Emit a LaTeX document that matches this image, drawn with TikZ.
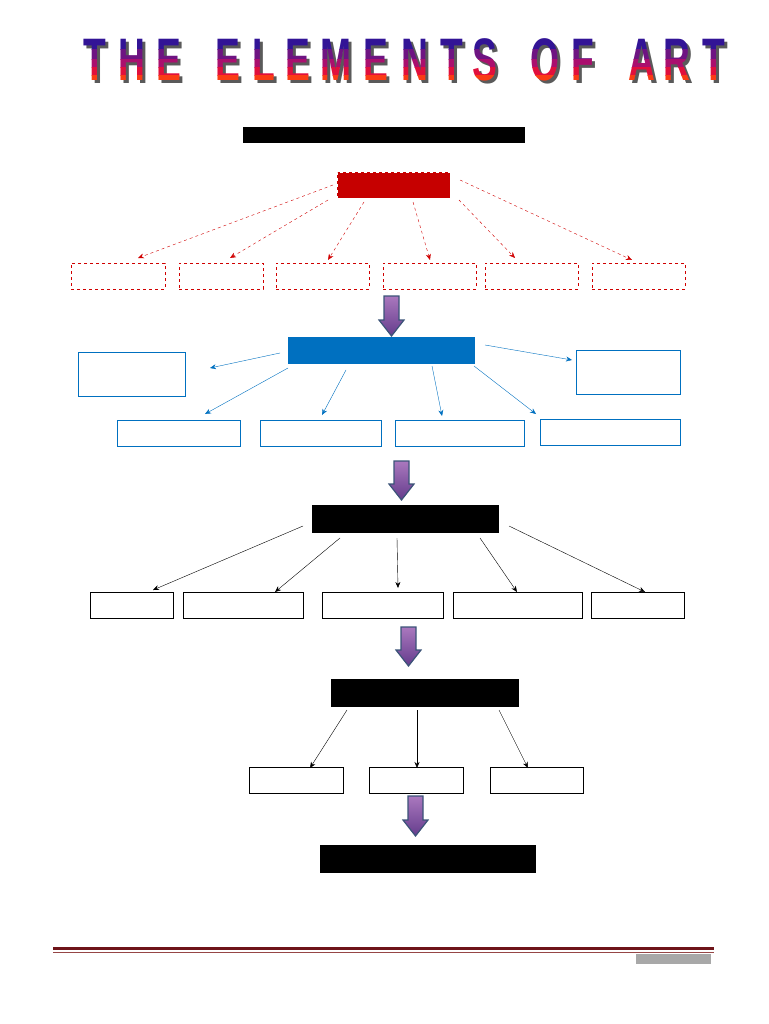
\documentclass[tikz,border=0pt]{standalone}
\usepackage{fontspec}
\setmainfont{Liberation Sans}
\usetikzlibrary{arrows.meta}
\definecolor{dred}{HTML}{D00000}
\definecolor{mblue}{HTML}{0070C0}
\tikzset{
 rbox/.style={draw=dred,dashed,line width=0.6pt},
 bbox/.style={draw=mblue,thin},
 kbox/.style={draw=black,thin},
 rarr/.style={draw=dred,dashed,thin,-{Stealth[length=6pt,width=5pt]}},
 barr/.style={draw=mblue,thin,-{Stealth[length=6pt,width=5pt]}},
 karr/.style={draw=black,thin,-{Stealth[length=6pt,width=5pt]}},
 blk/.style={draw=none,fill=black},
 big/.style={draw={rgb,255:red,59;green,83;blue,120},line width=1.2pt,top color={rgb,255:red,170;green,120;blue,190},bottom color={rgb,255:red,100;green,60;blue,140}},
 lt/.style={font=\fontsize{60}{60}\bfseries,xscale=0.62,inner sep=0,anchor=base}
}
\newcommand{\bigarrow}[4]{% name, left x, top y, bottom y
 \path[big] (#2+4,#3) -- (#2+19,#3) -- (#2+19,#4-16) -- (#2+24,#4-16) -- (#2+11.5,#4) -- (#2-1,#4-16) -- (#2+4,#4-16) -- cycle;
 \coordinate (#1) at (#2+11.5,#4);}
\newcommand{\titleletters}[1]{%
 \foreach \c/\xx in {T/95,H/132,E/169,E/228,L/264,E/298,M/336,E/376,N/415,T/452,S/485,O/545,F/583,A/642,R/677,T/714}{
  \node[lt,text=#1] at (\xx,81) {\c};}}
\begin{document}
\begin{tikzpicture}[x=1pt,y=-1pt]
\useasboundingbox (0,0) rectangle (768,1024);
% title shadow
\foreach \c/\xx in {T/95,H/132,E/169,E/228,L/264,E/298,M/336,E/376,N/415,T/452,S/485,O/545,F/583,A/642,R/677,T/714}
 \node[lt,text={rgb,255:red,90;green,90;blue,90}] at (\xx+3,84) {\c};
% title gradient bands
\foreach \ya/\yb/\col in {30/50/{rgb,255:red,50;green,20;blue,150},50/60/{rgb,255:red,110;green,20;blue,130},60/68/{rgb,255:red,170;green,15;blue,110},68/76/{rgb,255:red,225;green,15;blue,60},76/90/{rgb,255:red,250;green,60;blue,20}}{
 \begin{scope}
 \clip (60,\ya) rectangle (740,\yb);
 \titleletters{\col}
 \end{scope}}
% level 1
\path[blk] (243,127) rectangle (525,143);
\node[draw=white,dashed,fill=dred!95!black,minimum width=113pt,minimum height=26pt,inner sep=0] (r0) at (393.5,185) {};
\foreach \a/\b [count=\i] in {71/165,179/263,276/369,383/476,485/578,592/685}
 \node[rbox,minimum width=\b-\a,minimum height=26,inner sep=0] (r\i) at ({(\a+\b)/2},276) {};
\coordinate (s1) at (333,185); \coordinate (e1) at (138,258);
\coordinate (s2) at (328,200); \coordinate (e2) at (230,258);
\coordinate (s3) at (364,202); \coordinate (e3) at (328,260);
\coordinate (s4) at (413,202); \coordinate (e4) at (430,260);
\coordinate (s5) at (459,200); \coordinate (e5) at (515,258);
\coordinate (s6) at (460,180); \coordinate (e6) at (632,260);
\foreach \i in {1,...,6} \draw[rarr] (s\i) -- (e\i);
\bigarrow{a1}{380}{296}{336}
% level 2
\node[fill=mblue,minimum width=187,minimum height=27,inner sep=0] (b0) at (381.5,350.5) {};
\node[bbox,minimum width=107,minimum height=44,inner sep=0] (bl) at (131.5,374) {};
\node[bbox,minimum width=104,minimum height=44,inner sep=0] (br) at (628,372) {};
\node[bbox,minimum width=123,minimum height=26,inner sep=0] (b1) at (178.5,433) {};
\node[bbox,minimum width=121,minimum height=26,inner sep=0] (b2) at (320.5,433) {};
\node[bbox,minimum width=129,minimum height=26,inner sep=0] (b3) at (459.5,433) {};
\node[bbox,minimum width=140,minimum height=26,inner sep=0] (b4) at (610,432) {};
\coordinate (u1) at (280,353); \coordinate (v1) at (210,368);
\coordinate (u2) at (288,368); \coordinate (v2) at (205,414);
\coordinate (u3) at (346,370); \coordinate (v3) at (322,415);
\coordinate (u4) at (432,366); \coordinate (v4) at (442,416);
\coordinate (u5) at (474,366); \coordinate (v5) at (536,414);
\coordinate (u6) at (485,345); \coordinate (v6) at (572,360);
\foreach \i in {1,...,6} \draw[barr] (u\i) -- (v\i);
\bigarrow{a2}{390}{461}{500}
% level 3
\node[blk,minimum width=187,minimum height=28,inner sep=0] (k0) at (405.5,519) {};
\foreach \a/\b [count=\i] in {90/173,183/303,322/443,453/582,591/684}
 \node[kbox,minimum width=\b-\a,minimum height=26,inner sep=0] (k\i) at ({(\a+\b)/2},605) {};
\coordinate (p1) at (303,526); \coordinate (q1) at (153,590);
\coordinate (p2) at (340,538); \coordinate (q2) at (275,592);
\coordinate (p3) at (397,538); \coordinate (q3) at (398,588);
\coordinate (p4) at (480,538); \coordinate (q4) at (517,592);
\coordinate (p5) at (509,526); \coordinate (q5) at (645,592);
\foreach \i in {1,...,5} \draw[karr] (p\i) -- (q\i);
\bigarrow{a3}{397}{627}{666}
% level 4
\node[blk,minimum width=188,minimum height=28,inner sep=0] (m0) at (425,693) {};
\foreach \a/\b [count=\i] in {249/343,369/463,490/583}
 \node[kbox,minimum width=\b-\a,minimum height=26,inner sep=0] (m\i) at ({(\a+\b)/2},780) {};
\coordinate (g1) at (347,710); \coordinate (h1) at (310,768);
\coordinate (g2) at (417,710); \coordinate (h2) at (417,768);
\coordinate (g3) at (499,710); \coordinate (h3) at (528,768);
\foreach \i in {1,2,3} \draw[karr] (g\i) -- (h\i);
\bigarrow{a4}{404}{796}{836}
\node[blk,minimum width=216,minimum height=28,inner sep=0] (f0) at (428,859) {};
% footer
\path[fill={rgb,255:red,110;green,20;blue,25}] (53,946.5) rectangle (714,950);
\path[fill={rgb,255:red,150;green,70;blue,70}] (53,951.5) rectangle (714,952.5);
\path[fill={rgb,255:red,168;green,168;blue,168}] (636,954) rectangle (711,964);
\end{tikzpicture}
\end{document}
